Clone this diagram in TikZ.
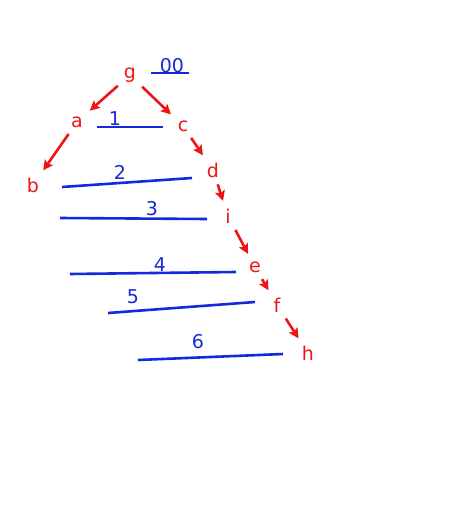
\documentclass[tikz,border=0pt]{standalone}
\usepackage{fontspec}
\setmainfont{DejaVu Sans}
\usetikzlibrary{arrows.meta}
\definecolor{treered}{RGB}{238,20,20}
\definecolor{cutblue}{RGB}{20,40,220}

\begin{document}
\begin{tikzpicture}[x=1pt, y=-1pt,
    vert/.style={text=treered, font=\fontsize{19}{22}\selectfont, inner sep=3pt},
    edge/.style={draw=treered, line width=2.6pt, -{Stealth[length=10pt,width=10pt,inset=2pt]}, shorten <=4pt, shorten >=5pt},
    cut/.style={draw=cutblue, line width=2.6pt},
    level/.style={text=cutblue, font=\fontsize{19}{22}\selectfont, inner sep=0pt}]
    \useasboundingbox (0,0) rectangle (474,506);
    % tree vertices
    \node [vert] (g) at (130,75) {g};
    \node [vert] (a) at (77,122) {a};
    \node [vert] (c) at (183,126) {c};
    \node [vert] (b) at (33,185) {b};
    \node [vert] (d) at (213,170) {d};
    \node [vert] (i) at (228,216) {i};
    \node [vert] (e) at (255,267) {e};
    \node [vert] (f) at (277,305) {f};
    \node [vert] (h) at (308,353) {h};
    % edges
    \draw [edge] (g) -- (a);
    \draw [edge] (g) -- (c);
    \draw [edge] (a) -- (b);
    \draw [edge] (c) -- (d);
    \draw [edge] (d) -- (i);
    \draw [edge] (i) -- (e);
    \draw [edge] (e) -- (f);
    \draw [edge] (f) -- (h);
    % levels
    \draw [cut] (151,73) -- (189,73);
    \node [level] (l00) at (172,66) {00};
    \draw [cut] (97,127) -- (163,127);
    \node [level] (l1) at (115,119) {1};
    \draw [cut] (62,187) -- (192,178);
    \node [level] (l2) at (120,172) {2};
    \draw [cut] (60,218) -- (207,219);
    \node [level] (l3) at (152,209) {3};
    \draw [cut] (70,274) -- (236,272);
    \node [level] (l4) at (160,265) {4};
    \draw [cut] (108,313) -- (255,302);
    \node [level] (l5) at (133,297) {5};
    \draw [cut] (138,360) -- (283,354);
    \node [level] (l6) at (198,342) {6};
\end{tikzpicture}
\end{document}
